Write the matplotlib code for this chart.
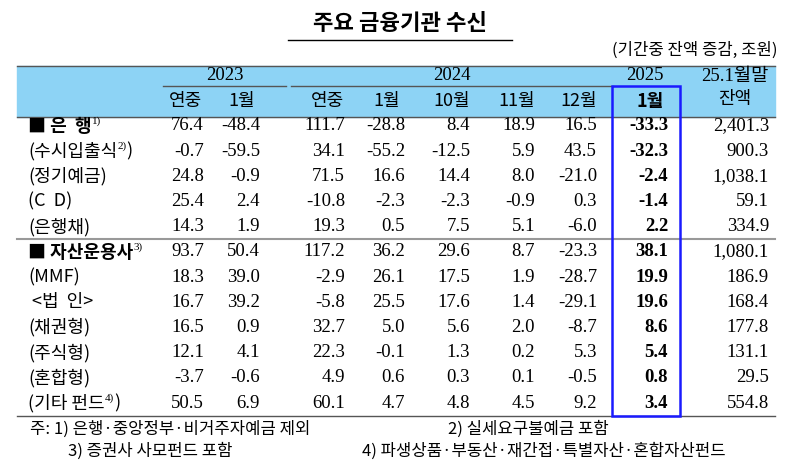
import matplotlib
matplotlib.use("Agg")
import matplotlib.pyplot as plt
from matplotlib.patches import Rectangle
from matplotlib.lines import Line2D

W, H = 800, 475
row_labels = ["■ 은  행", "(수시입출식", "(정기예금)", "(C  D)", "(은행채)",
              "■ 자산운용사", "(MMF)", " <법  인>", "(채권형)", "(주식형)", "(혼합형)", "(기타 펀드"]
row_sup = ["1)", "2)", "", "", "", "3)", "", "", "", "", "", "4)"]
row_suffix = ["", ")", "", "", "", "", "", "", "", "", "", ")"]
y2023_year = ["76.4", "-0.7", "24.8", "25.4", "14.3", "93.7", "18.3", "16.7", "16.5", "12.1", "-3.7", "50.5"]
y2023_jan = ["-48.4", "-59.5", "-0.9", "2.4", "1.9", "50.4", "39.0", "39.2", "0.9", "4.1", "-0.6", "6.9"]
y2024_year = ["111.7", "34.1", "71.5", "-10.8", "19.3", "117.2", "-2.9", "-5.8", "32.7", "22.3", "4.9", "60.1"]
y2024_jan = ["-28.8", "-55.2", "16.6", "-2.3", "0.5", "36.2", "26.1", "25.5", "5.0", "-0.1", "0.6", "4.7"]
y2024_oct = ["8.4", "-12.5", "14.4", "-2.3", "7.5", "29.6", "17.5", "17.6", "5.6", "1.3", "0.3", "4.8"]
y2024_nov = ["18.9", "5.9", "8.0", "-0.9", "5.1", "8.7", "1.9", "1.4", "2.0", "0.2", "0.1", "4.5"]
y2024_dec = ["16.5", "43.5", "-21.0", "0.3", "-6.0", "-23.3", "-28.7", "-29.1", "-8.7", "5.3", "-0.5", "9.2"]
y2025_jan = ["-33.3", "-32.3", "-2.4", "-1.4", "2.2", "38.1", "19.9", "19.6", "8.6", "5.4", "0.8", "3.4"]
balance = ["2,401.3", "900.3", "1,038.1", "59.1", "334.9", "1,080.1", "186.9", "168.4", "177.8", "131.1", "29.5", "554.8"]

KR = ["Noto Sans CJK KR", "DejaVu Sans"]
NUM = ["Liberation Serif", "Noto Sans CJK KR"]
FS = 13.5

fig = plt.figure(figsize=(8, 4.75), dpi=100)
ax = fig.add_axes([0, 0, 1, 1])
ax.set_xlim(0, W); ax.set_ylim(H, 0); ax.axis("off")

ax.text(400, 24, "주요 금융기관 수신", ha="center", va="center", fontsize=16, fontweight="bold", family=KR)
ax.add_line(Line2D([288, 512], [40, 40], color="black", lw=1))
ax.text(778, 50, "(기간중 잔액 증감, 조원)", ha="right", va="center", fontsize=12, family=KR)

ax.add_patch(Rectangle((17, 66), 758, 51, color="#8dd3f5", zorder=0))
ax.add_line(Line2D([17, 775], [66, 66], color="#555", lw=1))
ax.add_line(Line2D([17, 775], [117, 117], color="#555", lw=1))
ax.add_line(Line2D([163, 286], [86, 86], color="#555", lw=1))
ax.add_line(Line2D([291, 613], [86, 86], color="#555", lw=1))

ax.text(225, 76, "2023", ha="center", va="center", fontsize=FS, family=NUM)
ax.text(452, 76, "2024", ha="center", va="center", fontsize=FS, family=NUM)
ax.text(645, 76, "2025", ha="center", va="center", fontsize=FS, family=NUM)
ax.text(735, 76, "25.1월말", ha="center", va="center", fontsize=FS, family=NUM)
ax.text(735, 99, "잔액", ha="center", va="center", fontsize=13, family=KR)

col_right = [204, 260, 345, 405, 470, 535, 597, 668, 769]
col_heads = ["연중", "1월", "연중", "1월", "10월", "11월", "12월", "1월"]
for i, h in enumerate(col_heads):
    ax.text(col_right[i] - 18, 101, h, ha="center", va="center", fontsize=13,
            family=KR, fontweight="bold" if i == 7 else "normal")

cols = [y2023_year, y2023_jan, y2024_year, y2024_jan, y2024_oct, y2024_nov, y2024_dec, y2025_jan, balance]
y0, dy = 126, 25.2
for r in range(len(row_labels)):
    y = y0 + r * dy
    bold = r in (0, 5)
    t = ax.text(28, y, row_labels[r], ha="left", va="center", fontsize=13,
                family=KR, fontweight="bold" if bold else "normal")
    fig.canvas.draw()
    bb = t.get_window_extent().transformed(ax.transData.inverted())
    x_end = bb.x1
    if row_sup[r]:
        s = ax.text(x_end, y - 5, row_sup[r], ha="left", va="center", fontsize=8, family=NUM)
        bb2 = s.get_window_extent().transformed(ax.transData.inverted())
        x_end = bb2.x1
    if row_suffix[r]:
        ax.text(x_end, y, row_suffix[r], ha="left", va="center", fontsize=13, family=KR)
    for c, vals in enumerate(cols):
        ax.text(col_right[c], y, vals[r], ha="right", va="center", fontsize=FS, family=NUM,
                fontweight="bold" if c == 7 else "normal")

sep = y0 + 4.5 * dy
ax.add_line(Line2D([17, 775], [sep, sep], color="#999", lw=1.5))
bottom = y0 + 11.5 * dy
ax.add_line(Line2D([17, 775], [bottom, bottom], color="#555", lw=1))
ax.add_patch(Rectangle((612, 86), 68, bottom - 86, fill=False, edgecolor="#1a1aff", lw=1.8, zorder=5))

ax.text(30, 429, "주: 1) 은행·중앙정부·비거주자예금 제외", ha="left", va="center", fontsize=12, family=KR)
ax.text(448, 429, "2) 실세요구불예금 포함", ha="left", va="center", fontsize=12, family=KR)
ax.text(68, 451, "3) 증권사 사모펀드 포함", ha="left", va="center", fontsize=12, family=KR)
ax.text(362, 451, "4) 파생상품·부동산·재간접·특별자산·혼합자산펀드", ha="left", va="center", fontsize=12, family=KR)

fig.savefig("out.png", dpi=100)
